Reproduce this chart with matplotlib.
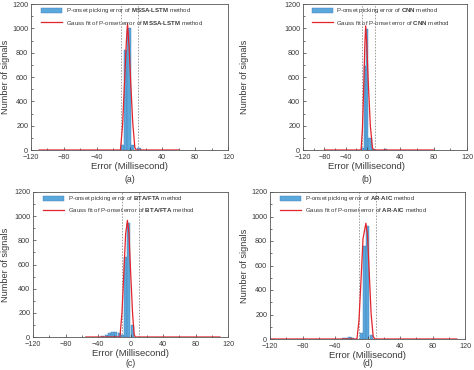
import matplotlib
matplotlib.use('Agg')
import matplotlib.pyplot as plt
import numpy as np
from matplotlib.ticker import MultipleLocator

plt.rcParams['font.family'] = ['Liberation Sans', 'DejaVu Sans']
plt.rcParams['mathtext.fontset'] = 'custom'
plt.rcParams['mathtext.bf'] = 'Liberation Sans:bold'
plt.rcParams['mathtext.rm'] = 'Liberation Sans'

# (a) MSSA-LSTM
a_bin_x = [-8.5, -4.5, -0.5, 3.5, 11.5]
a_counts = [40, 820, 1005, 40, 20]
a_fit_x = [-110, -11, -8.5, -6, -4, -2.4, -0.5, 1.5, 4, 6.5, 8, 60]
a_fit_y = [0, 0, 200, 560, 870, 1040, 850, 550, 220, 20, 0, 0]

# (b) CNN
b_bin_x = [-8.5, -4.5, -0.5, 3.5, 7.5, 22]
b_counts = [20, 690, 995, 100, 10, 10]
b_fit_x = [-80, -11, -8.5, -6, -4, -2.5, -0.5, 1.5, 4, 6.5, 8, 80]
b_fit_y = [0, 0, 180, 540, 870, 1020, 880, 560, 200, 20, 0, 0]

# (c) BTA/FTA
c_bin_x = [-34, -30, -26, -22, -18, -14, -10, -6, -2, 2]
c_counts = [10, 20, 35, 45, 45, 35, 20, 660, 945, 100]
c_fit_x = [-55, -13, -10.5, -8, -6, -3.8, -2, 0, 2.5, 4.5, 6, 110]
c_fit_y = [0, 0, 200, 560, 850, 965, 870, 560, 200, 20, 0, 0]

# (d) AR-AIC
d_bin_x = [-30, -26, -22, -18, -7.5, -3.5, 0.5, 4.5]
d_counts = [5, 10, 15, 10, 50, 760, 920, 30]
d_fit_x = [-120, -13, -10.5, -8, -5.5, -2, 0, 2, 4.5, 7, 9, 110]
d_fit_y = [0, 0, 150, 480, 820, 945, 850, 560, 200, 20, 0, 0]

panels = [
    ('(a)', 'MSSA', '-', 'LSTM', a_bin_x, a_counts, a_fit_x, a_fit_y,
     [31, 4, 228, 150], 10, -0.2),
    ('(b)', 'CNN', '', '', b_bin_x, b_counts, b_fit_x, b_fit_y,
     [303, 4, 467, 150], 249, -0.2),
    ('(c)', 'BTA/FTA', '', '', c_bin_x, c_counts, c_fit_x, c_fit_y,
     [33, 192, 228, 337], 10, -0.18),
    ('(d)', 'AR', '-', 'AIC', d_bin_x, d_counts, d_fit_x, d_fit_y,
     [270, 192, 465, 339], 249, -0.17),
]

W, H = 474, 370
fig = plt.figure(figsize=(W / 100, H / 100), dpi=100)

bar_color = '#5ba8dd'
fit_color = '#e2242c'
text_color = '#3a3a3a'
k = 0.64  # left half of panel (b) is squeezed in the source figure


def fwd(x):
    x = np.asarray(x, dtype=float)
    return np.where(x < 0, x * k, x)


def inv(y):
    y = np.asarray(y, dtype=float)
    return np.where(y < 0, y / k, y)


for tag, m1, sep, m2, bx, cnt, fx, fy, box, ylab_x, tag_y in panels:
    l, t, r, b = box
    ax = fig.add_axes([l / W, 1 - b / H, (r - l) / W, (b - t) / H])
    if tag == '(b)':
        ax.set_xscale('function', functions=(fwd, inv))

    name = r'$\mathbf{%s}$' % m1
    if m2:
        name += sep + r'$\mathbf{%s}$' % m2

    bars = ax.bar(bx, cnt, width=3.9, color=bar_color, edgecolor='#3f7fb5',
                  linewidth=0.3)
    line, = ax.plot(fx, fy, color=fit_color, lw=0.9)
    for v in (-10, 10):
        ax.axvline(v, color='#9a9a9a', lw=0.7, ls=(0, (1.5, 1.5)), zorder=0)

    ax.set_xlim(-120, 120)
    ax.set_ylim(0, 1200)
    ax.xaxis.set_major_locator(MultipleLocator(40))
    ax.xaxis.set_minor_locator(MultipleLocator(20))
    ax.yaxis.set_major_locator(MultipleLocator(200))
    ax.yaxis.set_minor_locator(MultipleLocator(100))
    ax.tick_params(which='both', direction='in', labelsize=5.2,
                   colors=text_color, width=0.5)
    ax.tick_params(axis='x', pad=3)
    ax.tick_params(axis='y', pad=2)
    ax.tick_params(which='major', length=2.5)
    ax.tick_params(which='minor', length=1.3)
    for s in ax.spines.values():
        s.set_linewidth(0.6)
        s.set_color('#555555')

    ax.set_ylabel('Number of signals', fontsize=6.6, color=text_color)
    ax.yaxis.set_label_coords((ylab_x - l) / (r - l), 0.5)
    ax.set_xlabel('Error (Millisecond)', fontsize=6.8, color=text_color)
    xc = 0.39 if tag == '(b)' else 0.5
    ax.xaxis.set_label_coords(xc, -0.085)
    ax.text(0, tag_y, tag, transform=ax.get_xaxis_transform(), ha='center',
            va='center', fontsize=6.3, color=text_color)

    ax.legend([bars, line],
              ['P-onset picking error of %s method' % name,
               'Gauss fit of P-onset error of %s method' % name],
              loc='upper left', bbox_to_anchor=(0.04, 1.0), frameon=False,
              fontsize=4.4, handlelength=3.4, handleheight=0.8,
              labelspacing=0.5, borderaxespad=0.0, handletextpad=0.6,
              labelcolor=text_color)

fig.savefig('out.png', dpi=100)
